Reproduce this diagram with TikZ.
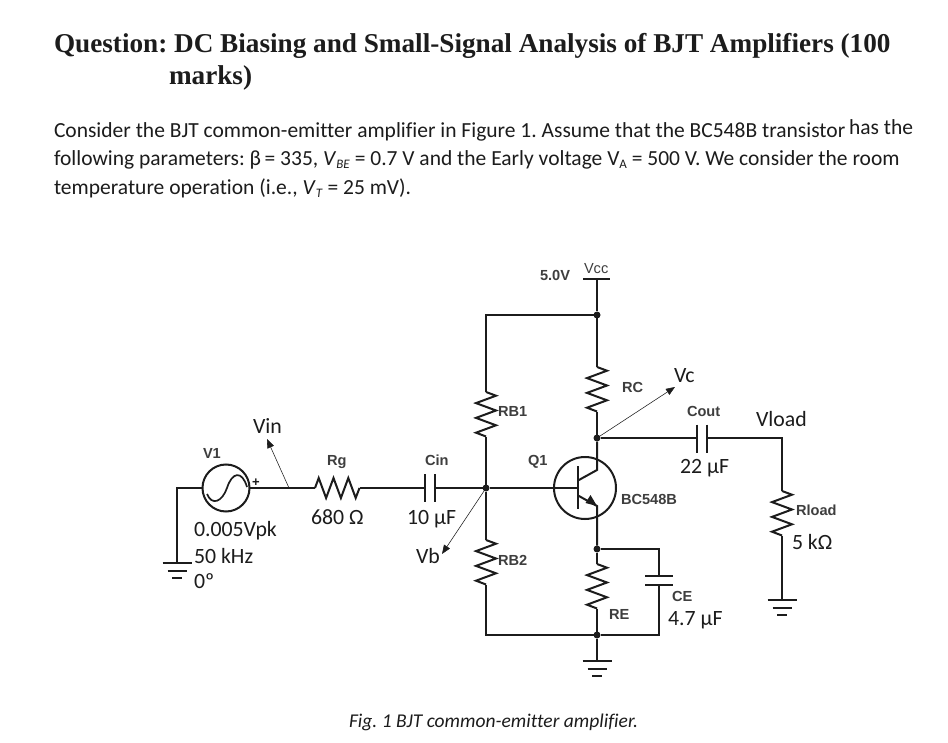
\documentclass[tikz,border=0pt]{standalone}
\usepackage{fontspec}
\setmainfont[Ligatures=NoCommon]{Carlito}
\newfontfamily\ttl{Liberation Serif}
\newfontfamily\arl{Liberation Sans}
\usetikzlibrary{arrows.meta,calc}
\definecolor{ink}{HTML}{1C1C1C}
\newcommand{\fs}[1]{\fontsize{#1}{#1}\selectfont}
\newcommand{\lowsub}[1]{\raisebox{-0.22ex}{\fs{13}#1}}
\frenchspacing
\tikzset{
  x=1pt,y=-1pt,
  every node/.style={inner sep=0pt,outer sep=0pt,text=ink},
  wire/.style={draw=ink,line width=2pt,line join=miter},
  thinarrow/.style={draw=ink,line width=0.55pt,-{Triangle[length=9pt,width=7pt]}},
  dot/.style={circle,fill=ink,minimum size=7pt},
  title/.style={anchor=base west,font=\ttl\bfseries\fs{27.2}},
  body/.style={anchor=base west,font=\fs{21.5}},
  partlab/.style={anchor=base west,font=\arl\bfseries\fs{14.6},text=ink!85},
  vallab/.style={anchor=base west,font=\fs{21.8}},
  pics/zig/.style={code={
    \draw[wire] (0,0) -- (10,3.7) -- (-10,11.1) -- (10,18.5) -- (-10,25.9) -- (10,33.3) -- (-10,40.7) -- (0,44.5);
  }},
  pics/gnd/.style={code={
    \draw[wire] (-14.5,0) -- (14.5,0);
    \draw[wire] (-9.5,7.5) -- (9.5,7.5);
    \draw[wire] (-5,15) -- (5,15);
  }}
}
\begin{document}
\begin{tikzpicture}
\useasboundingbox (0,0) rectangle (948,743);
\fill[white] (0,0) rectangle (948,743);

% text block
\node[title] (t1) at (54,52.5) {Question: DC Biasing and Small-Signal Analysis of BJT Amplifiers (100};
\node[title] (t2) at (169,85) {marks)};
\node[body] (b1) at (54,138) {Consider the BJT common-emitter amplifier in Figure 1. Assume that the BC548B transistor};
\node[body] (b1b) at (849,135) {has the};
\node[body] (b2) at (54,166) {following parameters: β\,= 335, \textit{V}\lowsub{\textit{BE}} = 0.7 V and the Early voltage V\lowsub{A} = 500 V. We consider the room};
\node[body] (b3) at (54,195) {temperature operation (i.e., \textit{V}\lowsub{\textit{T}} = 25 mV).};

% junctions
\node[dot] (jb) at (486,488) {};
\node[dot] (jt) at (597,315) {};
\node[dot] (jc) at (597,438) {};
\node[dot] (je) at (597,549) {};
\node[dot] (jg) at (597,635) {};

% free points
\coordinate (vcc) at (597,279);
\coordinate (rb1t) at (486,392); \coordinate (rb1b) at (486,436.5);
\coordinate (rb2t) at (486,540); \coordinate (rb2b) at (486,584.5);
\coordinate (rct) at (597,367);  \coordinate (rcb) at (597,411.5);
\coordinate (ret) at (597,564);  \coordinate (reb) at (597,608.5);
\coordinate (rlt) at (782,491);  \coordinate (rlb) at (782,535.5);
\coordinate (rgl) at (315,488);  \coordinate (rgr) at (359.5,488);
\coordinate (gs) at (177,563);
\coordinate (gm) at (597,661);
\coordinate (gl) at (782,600);
\coordinate (tapin) at (289,488);

% source
\node[circle,draw=ink,line width=2pt,minimum size=47pt] (src) at (226,488) {};
\draw[draw=ink,line width=1.7pt] (207,494) .. controls (212,506) and (222,502) .. (227,488) .. controls (232,472) and (242,470) .. (247,487);
\node[anchor=base,font=\arl\bfseries\fs{13}] (plus) at (256,486) {+};

% resistors
\pic at (rb1t) {zig};
\pic at (rb2t) {zig};
\pic at (rct) {zig};
\pic at (ret) {zig};
\pic at (rlt) {zig};
\pic[rotate=90] at (rgl) {zig};

% grounds
\pic at (gs) {gnd};
\pic at (gm) {gnd};
\pic at (gl) {gnd};

% wires
\draw[wire] (src.west) -| (gs);
\draw[wire] (src.east) -- (rgl);
\coordinate (cinl) at (425,488);
\coordinate (cinr) at (435,488);
\draw[wire] (rgr) -- (cinl);
\draw[wire] (cinr) -- (jb);
\draw[wire] (425,474) -- (425,502);
\draw[wire] (435,474) -- (435,502);

\draw[wire] (jt) -| (rb1t);
\draw[wire] (rb1b) -- (jb);
\draw[wire] (jb) -- (rb2t);
\draw[wire] (rb2b) |- (jg);
\draw[wire] (vcc) -- (jt);
\draw[wire] (583,279) -- (610,279);
\draw[wire] (jt) -- (rct);
\draw[wire] (rcb) -- (jc);

% transistor
\node[circle,draw=ink,line width=2pt,minimum size=62pt] (q1) at (585,488) {};
\coordinate (qb) at (578,488);
\draw[wire] (jb) -- (qb);
\draw[wire] (578,466) -- (578,509);
\draw[wire] (jc) -- (597,470) -- (578,480.5);
\draw[wire] (578,495.5) -- (597,506) -- (je);
\fill[ink] (597,506) -- (585.5,503) -- (590.5,495) -- cycle;

\draw[wire] (je) -- (ret);
\draw[wire] (reb) -- (jg);
\draw[wire] (jg) -- (gm);

% bypass cap
\coordinate (cet) at (659,576);
\coordinate (ceb) at (659,585);
\draw[wire] (je) -| (cet);
\draw[wire] (645,576) -- (673,576);
\draw[wire] (645,585) -- (673,585);
\draw[wire] (ceb) |- (jg);

% output
\coordinate (cl) at (697,438);
\coordinate (cr) at (707,438);
\draw[wire] (jc) -- (cl);
\draw[wire] (697,424.5) -- (697,453);
\draw[wire] (707,424.5) -- (707,453);
\draw[wire] (cr) -| (rlt);
\draw[wire] (rlb) -- (gl);

% probe labels and arrows
\node[vallab] (lvin) at (253,433) {Vin};
\node[vallab] (lvb) at (416,563) {Vb};
\node[vallab] (lvc) at (674,382) {Vc};
\node[vallab] (lvl) at (756,426) {Vload};
\coordinate (avin) at (267,439);
\coordinate (avb) at (442,554);
\coordinate (avc) at (675,387);
\draw[thinarrow] (tapin) -- (avin);
\draw[thinarrow] (jb) -- (avb);
\draw[thinarrow] (jc) -- (avc);

% part labels
\node[partlab] (lv1) at (203,458) {V1};
\node[partlab] (lrg) at (327,465) {Rg};
\node[partlab] (lcin) at (425,465) {Cin};
\node[partlab] (lq1) at (528,465) {Q1};
\node[partlab] (lrb1) at (498,416) {RB1};
\node[partlab] (lrb2) at (498,565) {RB2};
\node[partlab] (lrc) at (622,392) {RC};
\node[partlab] (lcout) at (687,416) {Cout};
\node[partlab] (lq) at (621,504) {BC548B};
\node[partlab] (lre) at (609,619) {RE};
\node[partlab] (lce) at (672,601) {CE};
\node[partlab] (lrl) at (796,515) {Rload};
\node[partlab] (lvs) at (540,281) {5.0V};
\node[anchor=base west,font=\arl\fs{14.6},text=ink!85] (lvcc) at (584,274) {Vcc};

% value labels
\node[vallab] (vrg) at (311,524) {680 Ω};
\node[vallab] (vcin) at (407,524) {10 µF};
\node[vallab] (vcout) at (680,473) {22 µF};
\node[vallab] (vce) at (668,625) {4.7 µF};
\node[vallab] (vrl) at (792,549) {5 kΩ};
\node[vallab] (vs1) at (194,536) {0.005Vpk};
\node[vallab] (vs2) at (194,563) {50 kHz};
\node[vallab] (vs3) at (194,588) {0º};

\node[anchor=base west,font=\itshape\fs{19.5}] (cap) at (349,727) {Fig. 1 BJT common-emitter amplifier.};
\end{tikzpicture}
\end{document}
